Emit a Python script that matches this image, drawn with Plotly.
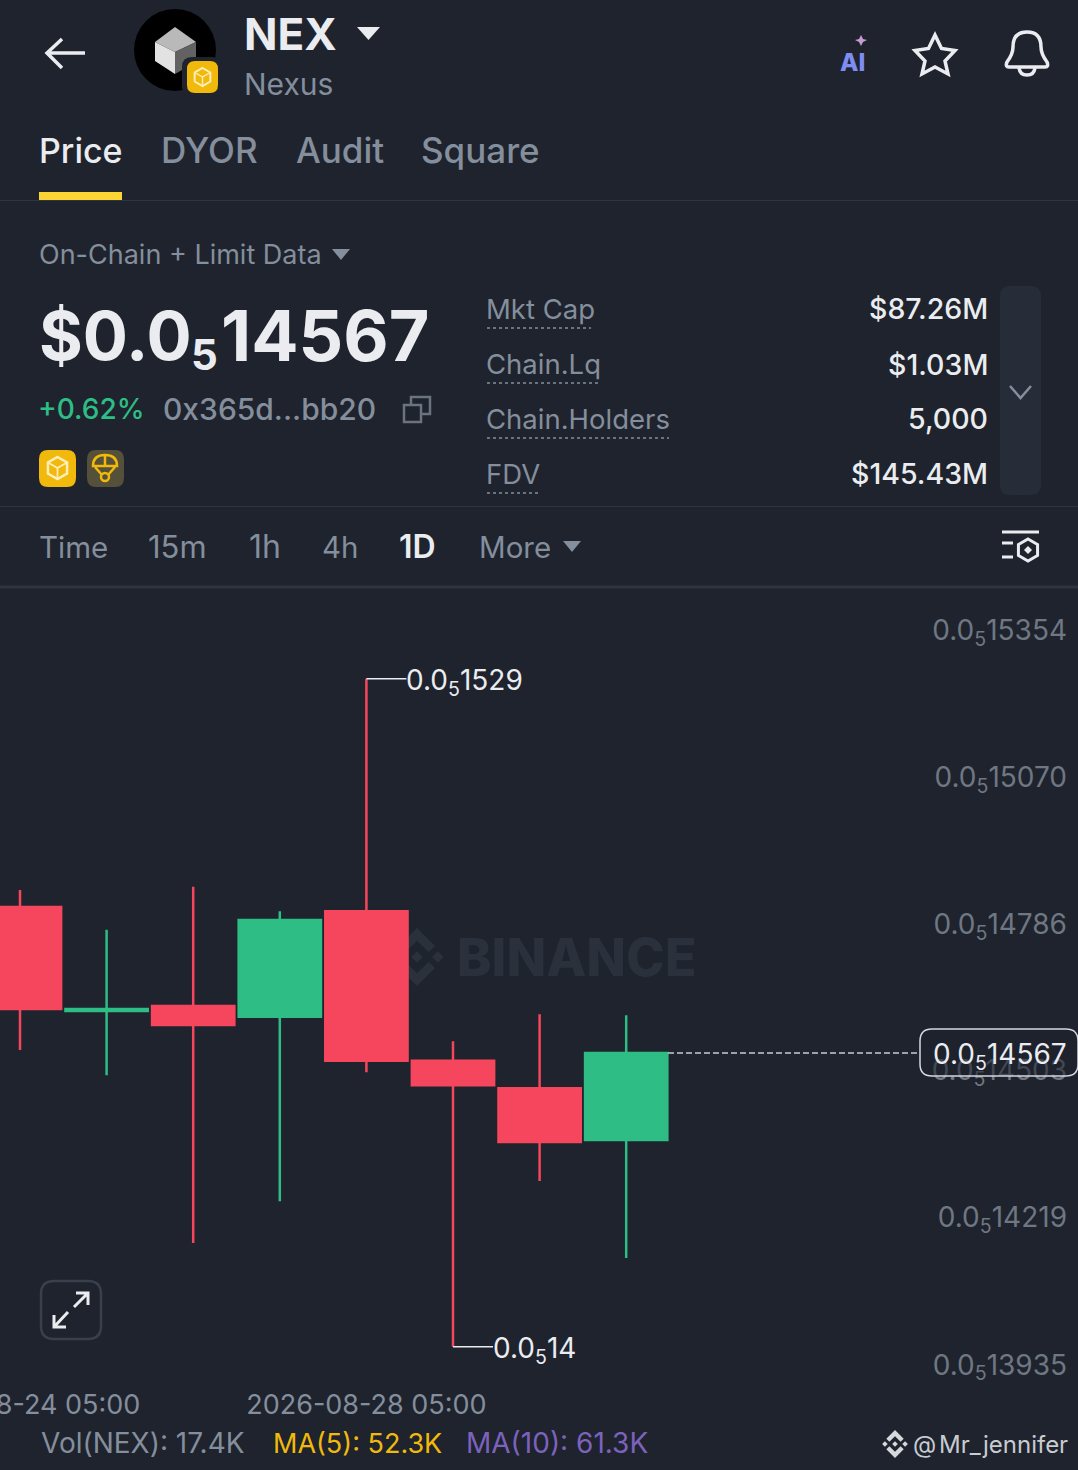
import pandas as pd
import plotly.graph_objects as go

W = 1078
H = 1470
BG = '#1e232d'
GRAY = '#848e9c'
WHITE = '#eaecef'
GREEN = '#2ebd85'
RED = '#f6465d'
YELLOW = '#f0b90b'
LINE = '#2f3540'
FONT = 'Inter'

# daily candles, price in units of 0.0_5 (1e-10)
dates = ['2026-08-24 05:00', '2026-08-25 05:00', '2026-08-26 05:00', '2026-08-27 05:00',
         '2026-08-28 05:00', '2026-08-29 05:00', '2026-08-30 05:00', '2026-08-31 05:00']
opens = [14849, 14648, 14658, 14637, 14841, 14552, 14499, 14399]
highs = [14882, 14805, 14888, 14841, 15290, 14590, 14642, 14640]
lows = [14573, 14524, 14200, 14281, 14530, 14000, 14320, 14171]
closes = [14652, 14652, 14621, 14824, 14552, 14505, 14395, 14567]

tick_vals = [15354, 15070, 14786, 14503, 14219, 13935]
tick_text = ['0.0<sub>5</sub>15354', '0.0<sub>5</sub>15070', '0.0<sub>5</sub>14786',
             '0.0<sub>5</sub>14503', '0.0<sub>5</sub>14219', '0.0<sub>5</sub>13935']
date_ticks = ['2026-08-24 05:00', '2026-08-28 05:00']

tabs = ['Price', 'DYOR', 'Audit', 'Square']
tab_x = [40, 162, 297, 422]
tab_size = [34, 35, 35, 35]
periods = ['Time', '15m', '1h', '4h', '1D', 'More']
period_x = [40, 149, 250, 323, 400, 480]
period_size = [29.5, 31, 32, 29.5, 32, 29.5]
stat_names = ['Mkt Cap', 'Chain.Lq', 'Chain.Holders', 'FDV']
stat_values = ['$87.26M', '$1.03M', '5,000', '$145.43M']
stat_y = [309, 364, 419, 474]
stat_ends = [591, 598, 669, 540]

shapes = []
notes = []


def px(x):
    return x / W


def py(y):
    return 1 - y / H


def path(d):
    # pixel path -> paper path, numbers go x, y, x, y...
    out = []
    is_x = True
    for tok in d.split():
        if tok.isalpha():
            out.append(tok)
        else:
            out.append(str(px(float(tok)) if is_x else py(float(tok))))
            is_x = not is_x
    return ' '.join(out)


def add_path(d, fill=None, line=None, width=0, layer='above'):
    shapes.append(dict(type='path', xref='paper', yref='paper', path=path(d), layer=layer,
                       fillcolor=fill if fill else 'rgba(0,0,0,0)',
                       line=dict(color=line if line else 'rgba(0,0,0,0)', width=width)))


def rrect(x0, y0, x1, y1, r):
    return (f'M {x0 + r} {y0} L {x1 - r} {y0} Q {x1} {y0} {x1} {y0 + r} L {x1} {y1 - r} '
            f'Q {x1} {y1} {x1 - r} {y1} L {x0 + r} {y1} Q {x0} {y1} {x0} {y1 - r} '
            f'L {x0} {y0 + r} Q {x0} {y0} {x0 + r} {y0} Z')


def circle(cx, cy, r, fill=None, line=None, width=0):
    shapes.append(dict(type='circle', xref='paper', yref='paper',
                       x0=px(cx - r), x1=px(cx + r), y0=py(cy + r), y1=py(cy - r),
                       fillcolor=fill if fill else 'rgba(0,0,0,0)',
                       line=dict(color=line if line else 'rgba(0,0,0,0)', width=width)))


def hline(x0, x1, y, color=LINE, width=1, dash='solid'):
    shapes.append(dict(type='line', xref='paper', yref='paper', x0=px(x0), x1=px(x1),
                       y0=py(y), y1=py(y), line=dict(color=color, width=width, dash=dash)))


def txt(x, y, s, size, color=GRAY, anchor='left', weight=400):
    if anchor == 'left':
        x -= 1.3  # side bearing of the font
    notes.append(dict(xref='paper', yref='paper', x=px(x), y=py(y), text=s, showarrow=False,
                      xanchor=anchor, yanchor='middle', borderpad=0, borderwidth=0,
                      font=dict(family=FONT, size=size, color=color, weight=weight)))


def hexagon(cx, cy, r, line, width=2):
    add_path(f'M {cx} {cy - r} L {cx + r * .87} {cy - r / 2} L {cx + r * .87} {cy + r / 2} '
             f'L {cx} {cy + r} L {cx - r * .87} {cy + r / 2} L {cx - r * .87} {cy - r / 2} Z',
             line=line, width=width)


def bnb_cube(cx, cy, r, color, width):
    hexagon(cx, cy, r, color, width)
    add_path(f'M {cx} {cy + r} L {cx} {cy} L {cx + r * .87} {cy - r / 2} M {cx} {cy} L {cx - r * .87} {cy - r / 2}',
             line=color, width=width * .7)


def binance_logo(cx, cy, s, color, layer='above'):
    add_path(f'M {cx} {cy - s} L {cx + .62 * s} {cy - .38 * s} L {cx + .4 * s} {cy - .16 * s} '
             f'L {cx} {cy - .56 * s} L {cx - .4 * s} {cy - .16 * s} L {cx - .62 * s} {cy - .38 * s} Z',
             fill=color, layer=layer)
    add_path(f'M {cx} {cy + s} L {cx + .62 * s} {cy + .38 * s} L {cx + .4 * s} {cy + .16 * s} '
             f'L {cx} {cy + .56 * s} L {cx - .4 * s} {cy + .16 * s} L {cx - .62 * s} {cy + .38 * s} Z',
             fill=color, layer=layer)
    for dx in [-.72 * s, 0, .72 * s]:
        r = .2 * s
        add_path(f'M {cx + dx} {cy - r} L {cx + dx + r} {cy} L {cx + dx} {cy + r} L {cx + dx - r} {cy} Z',
                 fill=color, layer=layer)


# header
add_path('M 85 53 L 47 53 M 62 39 L 47 53 L 62 68', line=WHITE, width=3.5)
circle(175, 50, 41, fill='#000000')
add_path('M 175 27 L 196 42 L 175 52 L 155 42 Z', fill='#b9b9b9')
add_path('M 155 42 L 175 52 L 175 74 L 155 61 Z', fill='#e2e2e2')
add_path('M 175 52 L 196 42 L 196 62 L 175 74 Z', fill='#626262')
add_path(rrect(182, 57, 222, 97, 10), fill=BG)
add_path(rrect(187, 61, 218, 93, 8), fill=YELLOW)
bnb_cube(202.5, 77, 9, '#ffeeb8', 2)
txt(245, 34, 'NEX', 44, WHITE, weight=700)
add_path('M 357 27 L 380 27 L 368.5 40 Z', fill=WHITE)
txt(245, 84, 'Nexus', 30)
txt(841, 63, 'AI', 24, '#7f8df2', weight=800)
add_path('M 861 35 L 863 39 L 867 40 L 863 42 L 861 46 L 859 42 L 855 40 L 859 39 Z', fill='#c79ad8')
add_path('M 935 35 L 941.5 48.5 L 955 50.5 L 945 61 L 948 74 L 935 67 L 922 74 L 925 61 L 915 50.5 L 928.5 48.5 Z',
         line=WHITE, width=3.5)
add_path('M 1009 67 Q 1005 67 1007 62 Q 1013 54 1013 47 Q 1013 32 1027 32 Q 1041 32 1041 47 '
         'Q 1041 54 1047 62 Q 1049 67 1045 67 Z', line=WHITE, width=3.5)
add_path('M 1019 68 Q 1020 75 1027 75 Q 1034 75 1035 68', line=WHITE, width=3.5)

# tabs
for name, x, size in zip(tabs, tab_x, tab_size):
    txt(x, 150, name, size, WHITE if name == 'Price' else GRAY, weight=500)
hline(0, W, 200.5)
add_path('M 39 192 L 122 192 L 122 200 L 39 200 Z', fill='#fcd535')

# price block
txt(40, 254, 'On-Chain + Limit Data', 27)
add_path('M 332 249 L 350 249 L 341 260 Z', fill=GRAY)
txt(40, 335, '$0.0', 67, WHITE, weight=700)
txt(192, 354, '5', 42, WHITE, weight=700)
txt(222, 335, '14567', 70, WHITE, weight=700)
txt(39, 409, '+0.62%', 28, GREEN, weight=500)
txt(164, 409, '0x365d...bb20', 30, GRAY, weight=500)
add_path('M 404 405 L 421 405 L 421 422 L 404 422 Z', line='#6b7380', width=2.5)
add_path('M 411 405 L 411 397 L 430 397 L 430 414 L 421 414', line='#6b7380', width=2.5)
add_path(rrect(39, 450, 76, 487, 9), fill=YELLOW)
bnb_cube(57.5, 468, 11, '#ffeeb8', 2.5)
add_path(rrect(87, 450, 124, 487, 9), fill='#55503a')
add_path('M 93 466 Q 93 455 105 455 Q 117 455 117 466 Z M 105 455 L 105 466 M 95 467 L 102 475 M 115 467 L 108 475',
         line=YELLOW, width=2.5)
circle(105, 477, 4, line=YELLOW, width=2.5)

# stats
for name, val, y, end in zip(stat_names, stat_values, stat_y, stat_ends):
    txt(487, y, name, 27.5)
    txt(988, y, val, 28.5, WHITE, anchor='right', weight=500)
    hline(487, end, y + 19, color=GRAY, width=1.5, dash='dot')
add_path(rrect(1000, 286, 1041, 495, 10), fill='#272d38')
add_path('M 1010 386 L 1020.5 398 L 1031 386', line=GRAY, width=2.5)
hline(0, W, 506.5)

# period row
for name, x, size in zip(periods, period_x, period_size):
    txt(x, 547, name, size, WHITE if name == '1D' else GRAY, weight=600 if name == '1D' else 400)
add_path('M 563 541 L 581 541 L 572 552 Z', fill=GRAY)
hline(1002, 1039, 532, color=WHITE, width=3)
hline(1002, 1013, 543, color=WHITE, width=3)
hline(1002, 1013, 557, color=WHITE, width=3)
hexagon(1028, 550, 11, WHITE, 3)
add_path('M 1028 546 L 1032 550 L 1028 554 L 1024 550 Z', fill=WHITE)
hline(0, W, 587, width=3)

# chart overlays
binance_logo(417, 957, 29, '#2a313c', layer='below')
txt(458, 957, 'BINANCE', 52, '#2a313c', weight=800)
add_path(rrect(41, 1281, 101, 1339, 13), line='#3a404b', width=2.5)
add_path('M 74 1307 L 88 1293 M 76 1293 L 88 1293 L 88 1305', line=WHITE, width=3)
add_path('M 68 1312 L 54 1327 M 66 1327 L 54 1327 L 54 1315', line=WHITE, width=3)

# last price line and box
shapes.append(dict(type='line', xref='paper', yref='y', x0=px(668), x1=px(918),
                   y0=closes[-1], y1=closes[-1], line=dict(color='#c8ccd2', width=1.5, dash='6px,3px')))
add_path(rrect(920, 1029, 1078, 1076, 12), fill='rgba(30,35,45,0.55)', line='#d5d8dc', width=1.5)
notes.append(dict(xref='paper', yref='y', x=px(933), y=closes[-1], text='0.0<sub>5</sub>14567',
                  showarrow=False, xanchor='left', yanchor='middle', borderpad=0, borderwidth=0, yshift=-3,
                  font=dict(family=FONT, size=28, color=WHITE)))

# high / low callouts
hi = highs.index(max(highs))
lo = lows.index(min(lows))
for i, val, label in [(hi, highs[hi], '0.0<sub>5</sub>1529'), (lo, lows[lo], '0.0<sub>5</sub>14')]:
    shapes.append(dict(type='line', xref='x', yref='y', xsizemode='pixel', xanchor=dates[i],
                       x0=0, x1=40, y0=val, y1=val, line=dict(color=WHITE, width=1.5)))
    notes.append(dict(xref='x', yref='y', x=dates[i], y=val, text=label, showarrow=False,
                      xanchor='left', yanchor='middle', xshift=40, yshift=-3, borderpad=0, borderwidth=0,
                      font=dict(family=FONT, size=28, color=WHITE)))

# bottom legend
txt(42, 1443, 'Vol(NEX): 17.4K', 28)
txt(274, 1443, 'MA(5): 52.3K', 27, YELLOW)
txt(467, 1443, 'MA(10): 61.3K', 28, '#7d62bd')
binance_logo(895, 1444, 14, '#d5d8dc')
txt(914, 1444, '@', 24, '#c8ccd2')
txt(940, 1444, 'Mr_jennifer', 24, '#c8ccd2')

# 86.6 px per daily candle, first one centred at x=20
first = pd.Timestamp(dates[0])
day = pd.Timedelta(days=1)
x_range = [first - day * (20 / 86.6), first + day * ((W - 20) / 86.6)]

fig = go.Figure(go.Candlestick(x=dates, open=opens, high=highs, low=lows, close=closes,
                               increasing=dict(line=dict(color=GREEN, width=2.5), fillcolor=GREEN),
                               decreasing=dict(line=dict(color=RED, width=2.5), fillcolor=RED),
                               whiskerwidth=0, hoverinfo='skip'))

fig.update_layout(width=W, height=H, margin=dict(l=0, r=0, t=0, b=0, autoexpand=False), paper_bgcolor=BG,
                  plot_bgcolor='rgba(0,0,0,0)', showlegend=False, boxgap=0.05, boxgroupgap=0,
                  shapes=shapes, annotations=notes, font=dict(family=FONT))
fig.update_xaxes(type='date', range=x_range, rangeslider_visible=False, domain=[0, 1], automargin=False,
                 tickvals=date_ticks, ticktext=date_ticks, showgrid=False, zeroline=False, showline=False,
                 tickfont=dict(family=FONT, size=27, color=GRAY), ticks='', ticklabeloverflow='allow',
                 ticklabelstandoff=1)
fig.update_yaxes(range=[13926, 15465], domain=[py(1385), py(588)], side='right', automargin=False,
                 ticklabelposition='inside top', tickvals=tick_vals, ticktext=tick_text,
                 showgrid=False, zeroline=False, showline=False, ticks='', ticklabeloverflow='allow',
                 tickfont=dict(family=FONT, size=28, color='#6f7783'), ticklabelstandoff=8, ticklabelshift=4)

fig.write_html('out.html', config=dict(displayModeBar=False),
               post_script="document.body.style.margin='0';document.body.style.background='%s';" % BG)
